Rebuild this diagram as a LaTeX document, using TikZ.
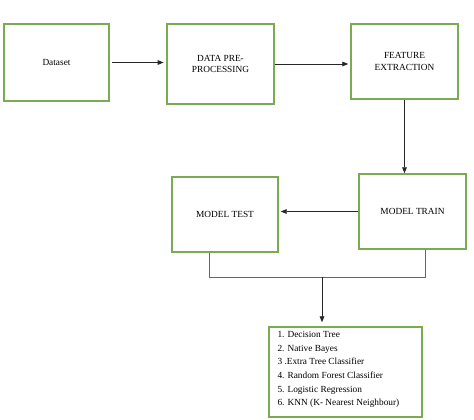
\documentclass[tikz,border=0pt]{standalone}
\usepackage{fontspec}
\setmainfont{Liberation Serif}
\usetikzlibrary{arrows.meta}

\definecolor{boxgreen}{RGB}{122,170,82}
\tikzset{every picture/.style={line width=0.75pt}}
\tikzset{
  stagebox/.style={draw=boxgreen, line width=1.1pt, fill=white, align=center, inner sep=0.75pt,
    font=\fontsize{7}{8.5}\selectfont},
  arrw/.style={draw=black!85, line width=0.7pt, -{Triangle[length=4.5pt,width=3.5pt]}},
  joinline/.style={draw=black!60, line width=0.7pt}
}

\begin{document}
\begin{tikzpicture}[x=0.75pt,y=0.75pt,yscale=-1,xscale=1]
\path (0,0) rectangle (474,420); %set diagram size to 474 x 420

% Boxes
\node [stagebox, minimum width=105*0.75pt, minimum height=77*0.75pt] (dataset) at (56.5,62.5) {Dataset};
\node [stagebox, minimum width=107*0.75pt, minimum height=80*0.75pt] (prep) at (220.5,64) {DATA PRE-\\PROCESSING};
\node [stagebox, minimum width=107*0.75pt, minimum height=75*0.75pt] (feat) at (404.5,61.5) {FEATURE\\EXTRACTION};
\node [stagebox, minimum width=107*0.75pt, minimum height=75*0.75pt] (train) at (412.5,211.5) {MODEL TRAIN};
\node [stagebox, minimum width=106*0.75pt, minimum height=75*0.75pt] (test) at (225,214.5) {MODEL TEST};
\node [draw=boxgreen, line width=1.1pt, minimum width=153*0.75pt, minimum height=90*0.75pt] (algo) at (345.5,372) {};

% Text Node
\node [anchor=north west, inner sep=0pt, align=left, font=\fontsize{7}{10.2}\selectfont] (algolist) at (277,331)
  {1. Decision Tree\\2. Native Bayes\\3 .Extra Tree Classifier\\4. Random Forest Classifier\\5. Logistic Regression\\6. KNN (K- Nearest Neighbour)};

% Arrows
\draw [arrw, shorten <=1.5pt, shorten >=2pt] (dataset.east) -- (dataset.east -| prep.west);
\draw [arrw, shorten >=1.5pt] (prep.east) -- (prep.east -| feat.west);
\draw [arrw] (feat.south) -- (feat.south |- train.north);
\draw [arrw, shorten >=1.5pt] (train.west) -- (train.west -| test.east);

% Join lines
\coordinate (joinl) at (209,277);
\coordinate (joinr) at (425,277);
\coordinate (joinm) at (322,277);
\draw [joinline] (test.south -| joinl) -- (joinl) -- (joinr) -- (train.south -| joinr);
\draw [arrw, shorten >=3pt] (joinm) -- (joinm |- algo.north);

\end{tikzpicture}
\end{document}
